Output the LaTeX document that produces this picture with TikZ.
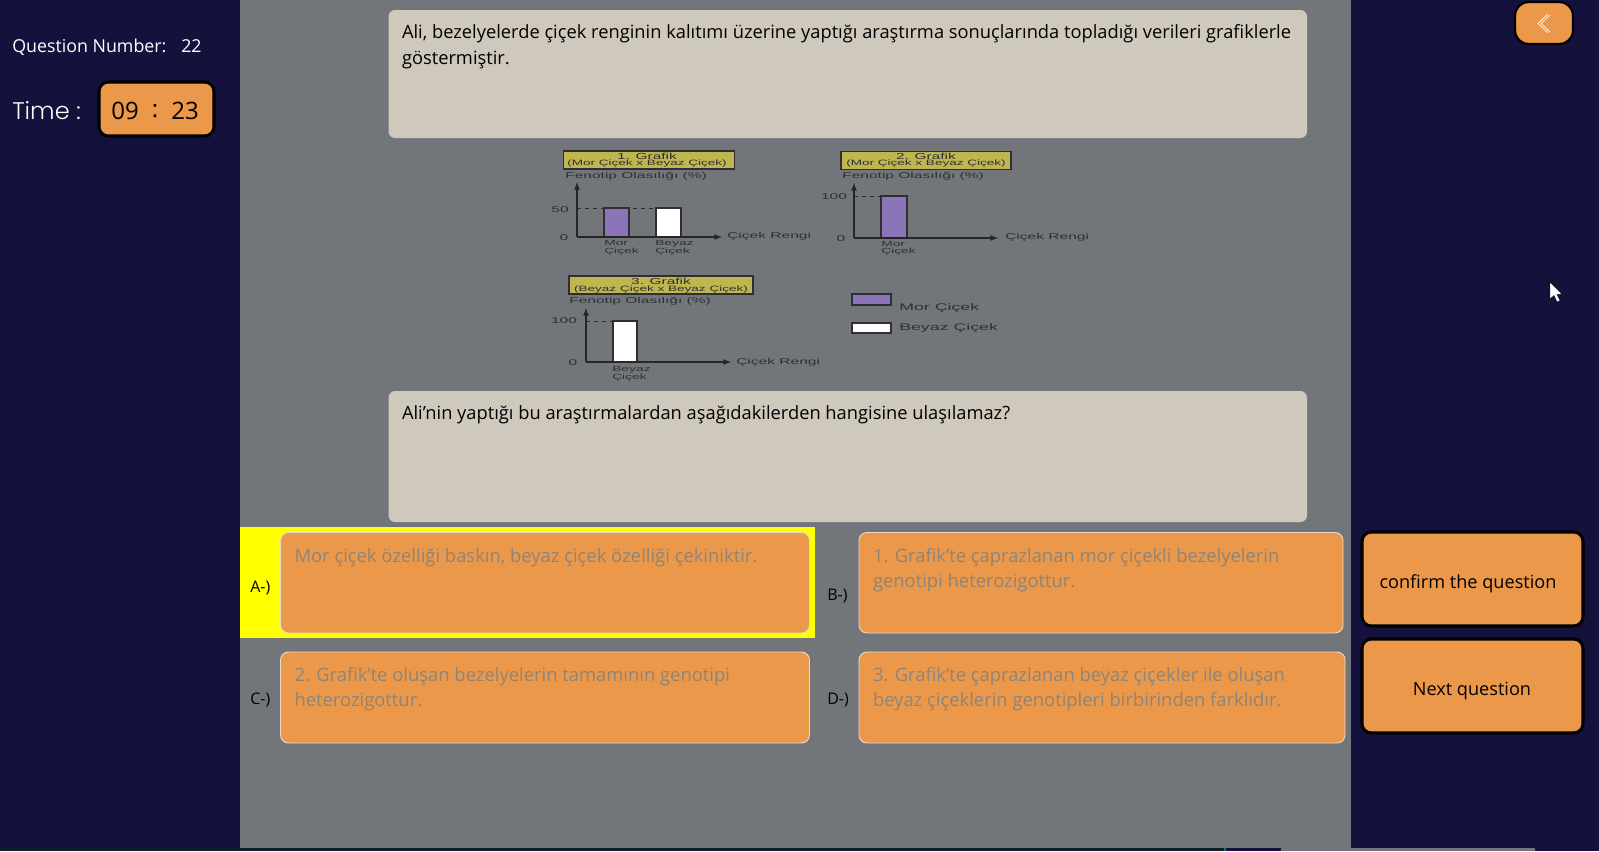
\documentclass[tikz,border=0pt]{standalone}
\usepackage{fontspec}
\setmainfont{Open Sans}
\newfontfamily\timefont{Poppins Light}
\newfontfamily\chartfont[FakeStretch=1.85]{Liberation Sans}
\newfontfamily\titlefont[FakeStretch=1.75]{Liberation Sans}
\definecolor{navy}{HTML}{14123C}
\definecolor{midgray}{HTML}{72767B}
\definecolor{pale}{HTML}{CFC8BC}
\definecolor{orange}{HTML}{EC984A}
\definecolor{ansgray}{HTML}{8C8578}
\definecolor{olive}{HTML}{BFB650}
\definecolor{inkgray}{HTML}{2E2F33}
\definecolor{bar}{HTML}{8B74B8}
\definecolor{strip}{HTML}{101E2A}
\definecolor{hilite}{RGB}{255,255,0}
\definecolor{anschrome}{HTML}{E6DACA}
\definecolor{tick}{HTML}{0F6F70}
\tikzset{
  x=0.75pt,y=-0.75pt,
  txt/.style={anchor=base west,inner sep=0pt,outer sep=0pt,font=\fontsize{13.72}{16}\selectfont},
  ans/.style={txt,text=ansgray,font=\fontsize{13.8}{16}\selectfont},
  lab/.style={anchor=base west,inner sep=0pt,font=\fontsize{12}{14}\selectfont},
  panel/.style={fill=pale,rounded corners=5pt},
  answer/.style={fill=orange,draw=anschrome,line width=0.7pt,rounded corners=6pt},
  btn/.style={fill=orange,draw=black,line width=2.3pt,rounded corners=7pt},
  ctitle/.style={fill=olive,draw=inkgray,line width=0.8pt,inner sep=0pt,minimum height=13.5pt},
  ctext/.style={text=inkgray,inner sep=0pt,yshift=-1pt,font=\chartfont\fontsize{6.3}{8}\selectfont},
  ttext/.style={text=inkgray,inner sep=0pt,anchor=center,font=\titlefont\fontsize{5.8}{7}\selectfont},
  thead/.style={ttext,font=\titlefont\fontsize{6.6}{7}\selectfont},
  cl/.style={ctext,anchor=west},
  cs/.style={cl,font=\chartfont\fontsize{5.6}{7}\selectfont},
  lg/.style={cl,font=\chartfont\fontsize{7.2}{8}\selectfont},
  cc/.style={ctext,anchor=center},
  axisline/.style={draw=black!85,line width=1pt,-{latex}},
  purplebar/.style={fill=bar,draw=inkgray,line width=0.8pt},
  whitebar/.style={fill=white,draw=inkgray,line width=0.8pt},
  dashline/.style={draw=inkgray,line width=0.5pt,dashed}
}
\begin{document}
\begin{tikzpicture}
\useasboundingbox (0,0) rectangle (1599,851);
\fill[navy] (0,0) rectangle (1599,851);
\fill[midgray] (240,0) rectangle (1351,848);
\fill[strip] (0,848) rectangle (1224,851);
\fill[tick] (1224,848) rectangle (1226,851);
\fill[midgray] (1281,848) rectangle (1535,851);
% left panel
\node[lab,text=white,font=\fontsize{13.35}{15}\selectfont] (qn) at (12,52) {Question Number:};
\node[lab,text=white,font=\fontsize{13.35}{15}\selectfont] (qnv) at (181,52) {22};
\node[anchor=base west,inner sep=0pt,text=white,font=\timefont\fontsize{18}{22}\selectfont] (time) at (12,119.5) {Time :};
\draw[btn] (99,82) rectangle (214,136);
\node[anchor=center,inner sep=0pt,font=\fontsize{18}{20}\selectfont] (m) at (125,111) {09};
\node[anchor=center,inner sep=0pt,font=\fontsize{18}{20}\selectfont] (c) at (155,111) {:};
\node[anchor=center,inner sep=0pt,font=\fontsize{18}{20}\selectfont] (s) at (185,111) {23};
% back
\draw[btn,rounded corners=10pt,line width=1.8pt] (1515,2) rectangle (1573,44);
\draw[white,line width=0.5pt] (1548,14) -- (1538,23.5) -- (1548,33) (1550,15) -- (1541,23.5) -- (1550,32);
% panels
\fill[panel] (388.5,10) rectangle (1307,138);
\fill[panel] (388.5,391) rectangle (1307,522);
\node[txt] (q1) at (402,38.5) {Ali, bezelyelerde çiçek renginin kalıtımı üzerine yaptığı araştırma sonuçlarında topladığı verileri grafiklerle};
\node[txt] (q2) at (402,64) {göstermiştir.};
\node[txt] (q3) at (402,419) {Ali’nin yaptığı bu araştırmalardan aşağıdakilerden hangisine ulaşılamaz?};
% answers
\fill[hilite] (240,527) rectangle (815,638);
\draw[answer] (280.5,532.5) rectangle (809.5,633);
\draw[answer] (859,532.5) rectangle (1343,633);
\draw[answer] (280.5,652) rectangle (809.5,743);
\draw[answer] (859,652) rectangle (1345,743);
\node[lab] (la) at (250,592) {A-)};
\node[lab] (lb) at (827,600) {B-)};
\node[lab] (lc) at (250,704) {C-)};
\node[lab] (ld) at (827,704) {D-)};
\node[ans] (a1) at (294.5,562) {Mor çiçek özelliği baskın, beyaz çiçek özelliği çekiniktir.};
\node[ans] (b1) at (873,562) {1. Grafik’te çaprazlanan mor çiçekli bezelyelerin};
\node[ans] (b2) at (873,587) {genotipi heterozigottur.};
\node[ans] (c1) at (294.5,681) {2. Grafik’te oluşan bezelyelerin tamamının genotipi};
\node[ans] (c2) at (294.5,706) {heterozigottur.};
\node[ans] (d1) at (873,681) {3. Grafik’te çaprazlanan beyaz çiçekler ile oluşan};
\node[ans] (d2) at (873,706) {beyaz çiçeklerin genotipleri birbirinden farklıdır.};
% buttons
\draw[btn] (1362,532) rectangle (1583,626);
\draw[btn] (1362,639) rectangle (1583,733);
\node[inner sep=0pt,font=\fontsize{13.6}{16}\selectfont] (conf) at (1468,584) {confirm the question};
\node[inner sep=0pt,font=\fontsize{13.6}{16}\selectfont] (nxt) at (1472,691) {Next question};
% cursor
\fill[white,draw=black,line width=0.3pt] (1550,282) -- (1550,299) -- (1554,295.5) -- (1557,302) -- (1560,300.5) -- (1557,294.5) -- (1562,294) -- cycle;
% chart 1
\node[ctitle,minimum width=128pt] (t1) at (649,160) {};
\node[thead] (t1a) at (647,156) {1. Grafik};
\node[ttext] (t1b) at (647,164) {(Mor Çiçek x Beyaz Çiçek)};
\node[cl] (f1) at (565,175) {Fenotip Olasılığı (\%)};
\draw[dashline] (577,208) -- (656,208);
\draw[purplebar] (604,208) rectangle (629,237);
\draw[whitebar] (656,208) rectangle (681,237);
\draw[axisline] (577,237) -- (577,182);
\draw[axisline] (577,237) -- (722,237);
\node[cc] (n50) at (560,208.5) {50};
\node[cc] (n0a) at (564,236) {0};
\node[cs] (m1) at (604,242) {Mor};
\node[cs] (m2) at (604,250) {Çiçek};
\node[cs] (b3) at (655,242) {Beyaz};
\node[cs] (b4) at (655,250) {Çiçek};
\node[cl] (r1) at (727,235) {Çiçek Rengi};
% chart 2
\node[ctitle,minimum width=127.5pt] (t2) at (926,160.5) {};
\node[thead] (t2a) at (926,156) {2. Grafik};
\node[ttext] (t2b) at (926,164) {(Mor Çiçek x Beyaz Çiçek)};
\node[cl] (f2) at (842,175) {Fenotip Olasılığı (\%)};
\draw[dashline] (854,196) -- (881,196);
\draw[purplebar] (881,196) rectangle (907,238);
\draw[axisline] (854,238) -- (854,183);
\draw[axisline] (854,238) -- (998,238);
\node[cc] (n100a) at (834,195) {100};
\node[cc] (n0b) at (841,237) {0};
\node[cs] (m3) at (881,243) {Mor};
\node[cs] (m4) at (881,250.5) {Çiçek};
\node[cl] (r2) at (1005,236.5) {Çiçek Rengi};
% chart 3
\node[ctitle,minimum width=138pt] (t3) at (661,285) {};
\node[thead] (t3a) at (661,281) {3. Grafik};
\node[ttext] (t3b) at (661,289.5) {(Beyaz Çiçek x Beyaz Çiçek)};
\node[cl] (f3) at (569,300) {Fenotip Olasılığı (\%)};
\draw[dashline] (586,321) -- (613,321);
\draw[whitebar] (613,321) rectangle (637,362);
\draw[axisline] (586,362) -- (586,308);
\draw[axisline] (586,362) -- (731,362);
\node[cc] (n100b) at (564,319) {100};
\node[cc] (n0c) at (573,361) {0};
\node[cs] (b5) at (612,368) {Beyaz};
\node[cs] (b6) at (612,376) {Çiçek};
\node[cl] (r3) at (736,361) {Çiçek Rengi};
% legend
\draw[purplebar] (852,294) rectangle (891,305);
\draw[whitebar] (852,323) rectangle (891,333);
\node[lg] (l1) at (899,307) {Mor Çiçek};
\node[lg] (l2) at (899,327) {Beyaz Çiçek};
\end{tikzpicture}
\end{document}
